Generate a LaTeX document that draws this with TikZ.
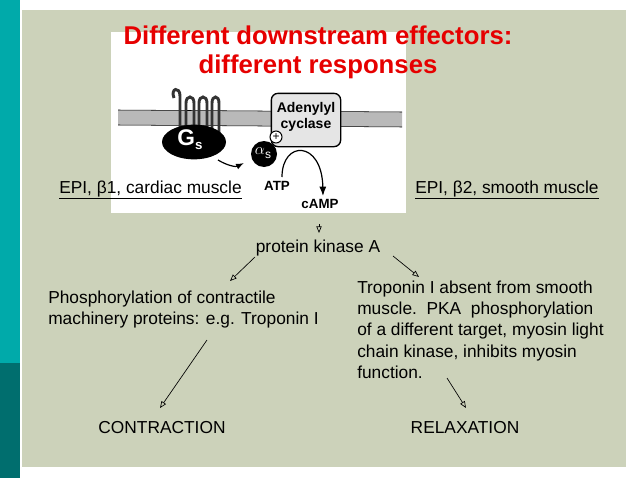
\documentclass[tikz,border=0pt]{standalone}
\usepackage{fontspec}
\setmainfont{Liberation Sans}
\usetikzlibrary{arrows.meta,shapes.geometric}
\definecolor{panel}{RGB}{204,210,186}
\definecolor{teal1}{RGB}{0,170,170}
\definecolor{teal2}{RGB}{0,110,110}
\definecolor{tred}{RGB}{230,0,0}
\begin{document}
\begin{tikzpicture}[x=0.75pt,y=-0.75pt,
  txt/.style={font=\fontsize{13}{15.8}\selectfont,inner sep=0pt},
  arr/.style={-{Stealth[length=5pt,width=4pt,inset=0pt,open]},line width=0.5pt},
  fig/.style={font=\bfseries\fontsize{10}{11}\selectfont,inner sep=0pt},
  ttl/.style={font=\bfseries\fontsize{19.3}{22}\selectfont,text=tred,inner sep=0pt}]
\useasboundingbox (0,0) rectangle (638,478);
\fill[white] (0,0) rectangle (638,478);
\fill[teal1] (0,0) rectangle (20,363);
\fill[teal2] (0,363) rectangle (20,478);
\fill[panel] (22,10) rectangle (626,467);
\fill[white] (111,32) rectangle (406,213);
% membrane
\fill[gray!55] (118,110) -- (402,112) -- (402,127) -- (118,125) -- cycle;
\draw (118,110) -- (402,112) (118,125) -- (402,127);
% receptor
\draw[line width=2.2pt,black!80] (174,98) .. controls (170,88) and (180,86) .. (180,96) -- (180,135)
  (186,135) -- (186,103) .. controls (186,95) and (194,95) .. (194,103) -- (194,135)
  (199,135) -- (199,103) .. controls (199,95) and (207,95) .. (207,103) -- (207,135)
  (212,135) -- (212,103) .. controls (212,95) and (219,95) .. (219,103) -- (219,135);
\node[fill=black,ellipse,minimum width=48pt,minimum height=26pt,inner sep=0pt] (gs) at (194,142) {};
\node[text=white,font=\bfseries\fontsize{17}{17}\selectfont] at (190,140) {G\raisebox{-3pt}{\fontsize{10}{10}\selectfont s}};
% adenylyl cyclase
\node[draw,line width=1pt,fill=gray!20,rounded corners=5pt,minimum width=52pt,minimum height=40pt] (ac) at (306,120) {};
\node[fig,align=center,font=\bfseries\fontsize{10.5}{12}\selectfont] at (306,117) {Adenylyl\\cyclase};
% alpha s
\fill[black] (264,154) circle[radius=13];
\node[text=white,font=\fontsize{13}{13}\selectfont] (as) at (263,153) {$\alpha$\raisebox{-3pt}{\fontsize{9}{9}\selectfont s}};
\node[circle,draw,fill=white,line width=0.8pt,inner sep=0pt,minimum size=9pt,font=\fontsize{9}{9}\selectfont] at (276,137) {+};
\draw[-{Latex[length=6pt]},line width=0.9pt] (218,160) .. controls (228,166) and (236,167) .. (244,163);
\node[fig] (atp) at (277,186) {ATP};
\node[fig] (camp) at (320,204) {cAMP};
\draw[-{Latex[length=7pt]},line width=0.9pt] (282,177) .. controls (282,140) and (322,140) .. (323,196);
% texts
\node[ttl] at (318,35) {Different downstream effectors:};
\node[ttl] at (318,67) {different responses};
\node[txt,anchor=west] (l1) at (59,190) {\underline{EPI, β1, cardiac muscle}};
\node[txt,anchor=west] (r1) at (415,190) {\underline{EPI, β2, smooth muscle}};
\coordinate (c1) at (319,224);
\node[txt] (pka) at (318,248) {protein kinase A};
\draw[arr] (c1) -- (319,233);
\node[txt,anchor=north west,align=left] (ltx) at (48,291) {Phosphorylation of contractile\\machinery proteins: e.g. Troponin I};
\node[txt,anchor=north west,align=left] (rtx) at (357,281) {Troponin I absent from smooth\\muscle.\ \ PKA\ \ phosphorylation\\of a different target, myosin light\\chain kinase, inhibits myosin\\function.};
\node[txt] (con) at (162,428) {CONTRACTION};
\node[txt] (rel) at (465,428) {RELAXATION};
\draw[arr] (255,257) -- (230,281);
\draw[arr] (393,256) -- (419,277);
\draw[arr] (207,340) -- (160,408);
\draw[arr] (447,378) -- (466,408);
\end{tikzpicture}
\end{document}
